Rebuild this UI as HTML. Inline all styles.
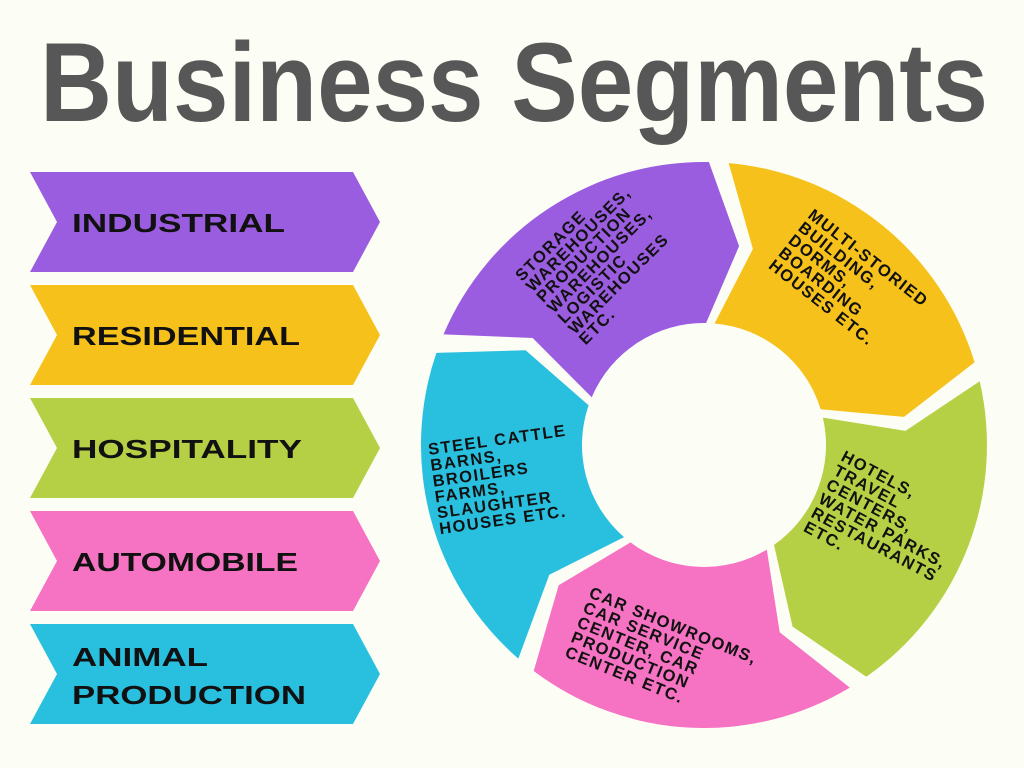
<!DOCTYPE html>
<html><head><meta charset="utf-8"><style>
html,body{margin:0;padding:0;background:#fcfdf5;}
svg{display:block}
text{font-family:"Liberation Sans",sans-serif;font-weight:bold;}
</style></head><body>
<svg width="1024" height="768" viewBox="0 0 1024 768">
<rect width="1024" height="768" fill="#fcfdf5"/>
<text x="40" y="121" font-size="112" fill="#575757" textLength="948" lengthAdjust="spacingAndGlyphs">Business Segments</text>

<g>
<polygon points="30,172 353,172 380,222 353,272 30,272 57,222" fill="#9b5de0"/>
<polygon points="30,285 353,285 380,335 353,385 30,385 57,335" fill="#f6c11a"/>
<polygon points="30,398 353,398 380,448 353,498 30,498 57,448" fill="#b5d044"/>
<polygon points="30,511 353,511 380,561 353,611 30,611 57,561" fill="#f672c2"/>
<polygon points="30,624 353,624 380,674 353,724 30,724 57,674" fill="#29c0e0"/>
</g>
<g font-size="26" fill="#111">
<text x="72" y="232" textLength="213" lengthAdjust="spacingAndGlyphs">INDUSTRIAL</text>
<text x="72" y="345" textLength="228" lengthAdjust="spacingAndGlyphs">RESIDENTIAL</text>
<text x="72" y="458" textLength="230" lengthAdjust="spacingAndGlyphs">HOSPITALITY</text>
<text x="72" y="571" textLength="226" lengthAdjust="spacingAndGlyphs">AUTOMOBILE</text>
<text x="72" y="666" textLength="136" lengthAdjust="spacingAndGlyphs">ANIMAL</text>
<text x="72" y="704" textLength="234" lengthAdjust="spacingAndGlyphs">PRODUCTION</text>
</g>

<path d="M443.5,334.4 A283,283 0 0 1 708.9,162.0 L739.1,246.1 L706.1,323.0 A122,122 0 0 0 591.7,397.3 L532.7,338.0 Z" fill="#9b5de0"/>
<path d="M728.7,163.1 A283,283 0 0 1 974.6,362.3 L904.0,416.9 L820.7,409.3 A122,122 0 0 0 714.6,323.5 L752.9,249.0 Z" fill="#f6c11a"/>
<path d="M979.7,381.3 A283,283 0 0 1 866.3,676.8 L792.6,626.6 L774.0,544.9 A122,122 0 0 0 822.9,417.6 L905.5,430.9 Z" fill="#b5d044"/>
<path d="M849.8,687.6 A283,283 0 0 1 533.7,671.0 L558.7,585.3 L630.6,542.4 A122,122 0 0 0 766.8,549.6 L779.7,632.3 Z" fill="#f672c2"/>
<path d="M518.3,658.6 A283,283 0 0 1 436.4,352.9 L525.6,350.2 L588.6,405.3 A122,122 0 0 0 624.0,537.1 L549.3,574.8 Z" fill="#29c0e0"/>

<g font-size="16.5" fill="#111" letter-spacing="1.5">
<g transform="translate(522,282) rotate(-45)">
<text x="0" y="0">STORAGE</text>
<text x="0" y="15">WAREHOUSES,</text>
<text x="0" y="30">PRODUCTION</text>
<text x="0" y="45">WAREHOUSES,</text>
<text x="0" y="60">LOGISTIC</text>
<text x="0" y="75">WAREHOUSES</text>
<text x="0" y="90">ETC.</text>
</g>
<g transform="translate(807,217) rotate(38)">
<text x="0" y="0">MULTI-STORIED</text>
<text x="0" y="16">BUILDING,</text>
<text x="0" y="32">DORMS,</text>
<text x="0" y="48">BOARDING</text>
<text x="0" y="64">HOUSES ETC.</text>
</g>
<g transform="translate(840,460) rotate(28)">
<text x="0" y="0">HOTELS,</text>
<text x="0" y="16">TRAVEL</text>
<text x="0" y="32">CENTERS,</text>
<text x="0" y="48">WATER PARKS,</text>
<text x="0" y="64">RESTAURANTS</text>
<text x="0" y="80">ETC.</text>
</g>
<g transform="translate(588,597) rotate(22)">
<text x="0" y="0">CAR SHOWROOMS,</text>
<text x="0" y="16">CAR SERVICE</text>
<text x="0" y="32">CENTER, CAR</text>
<text x="0" y="48">PRODUCTION</text>
<text x="0" y="64">CENTER ETC.</text>
</g>
<g transform="translate(429,455) rotate(-8)">
<text x="0" y="0">STEEL CATTLE</text>
<text x="0" y="16">BARNS,</text>
<text x="0" y="32">BROILERS</text>
<text x="0" y="48">FARMS,</text>
<text x="0" y="64">SLAUGHTER</text>
<text x="0" y="80">HOUSES ETC.</text>
</g>
</g>
</svg>
</body></html>
